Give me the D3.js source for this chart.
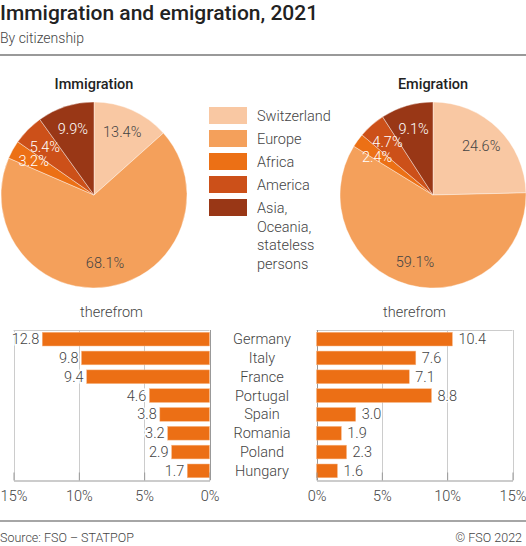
<!DOCTYPE html>
<html><head><meta charset="utf-8">
<script src="https://cdn.jsdelivr.net/npm/d3@7"></script>
<style>
body{margin:0;background:#fff;}
svg{display:block;font-family:Roboto,"Noto Sans",sans-serif;}
</style></head><body>
<svg id="chart" width="526" height="546"></svg>
<script>
const groups = ["Switzerland","Europe","Africa","America","Asia, Oceania, stateless persons"];
const groupColors = ["#f9c8a3","#f4a05b","#ec7015","#cc5019","#993716"];
const immigrationShares = [13.4,68.1,3.2,5.4,9.9];
const emigrationShares = [24.6,59.1,2.4,4.7,9.1];
const countries = ["Germany","Italy","France","Portugal","Spain","Romania","Poland","Hungary"];
const immigrationCountries = [12.8,9.8,9.4,4.6,3.8,3.2,2.9,1.7];
const emigrationCountries = [10.4,7.6,7.1,8.8,3.0,1.9,2.3,1.6];
const tickValues = [0,5,10,15];
const legendLines = [["Switzerland"],["Europe"],["Africa"],["America"],["Asia,","Oceania,","stateless","persons"]];

const svg = d3.select("#chart");
const textCol = "#444";
const FS = 14.5;

// header
svg.append("text").attr("x",0).attr("y",20).attr("font-size",21).attr("font-weight",500).attr("fill","#222").text("Immigration and emigration, 2021");
svg.append("text").attr("x",0).attr("y",43).attr("font-size",14).attr("font-weight",300).attr("fill",textCol).text("By citizenship");
svg.append("line").attr("x1",0).attr("x2",526).attr("y1",55).attr("y2",55).attr("stroke","#777").attr("stroke-width",1.5);

const color = d3.scaleOrdinal().domain(groups).range(groupColors);
const pie = d3.pie().sort(null).value(d=>d.v);
const R = 93;
const arc = d3.arc().innerRadius(0).outerRadius(R);
const labelArc = d3.arc().innerRadius(69).outerRadius(69);

function drawPie(cx, title, values, nudge){
  const g = svg.append("g").attr("transform",`translate(${cx},195)`);
  svg.append("text").attr("x",cx).attr("y",89).attr("text-anchor","middle").attr("font-size",FS).attr("font-weight",500).attr("fill","#222").text(title);
  const data = pie(groups.map((k,i)=>({k,v:values[i]})));
  g.selectAll("path").data(data).join("path").attr("d",arc).attr("fill",d=>color(d.data.k)).attr("stroke","#fff").attr("stroke-width",0.4);
  g.selectAll("text").data(data).join("text")
    .attr("transform",(d,i)=>{const c=labelArc.centroid(d);return `translate(${c[0]},${c[1]+(nudge[i]||0)})`;})
    .attr("text-anchor","middle").attr("dy","0.35em").attr("font-size",FS).attr("font-weight",300)
    .attr("fill",(d,i)=>i<2?"#444":"#fff")
    .text(d=>d.data.v.toFixed(1)+"%");
}
drawPie(94,"Immigration",immigrationShares,[0,0,0,0,0]);
drawPie(433,"Emigration",emigrationShares,[0,0,2.5,-1,0]);

// legend
const leg = svg.append("g");
groups.forEach((k,i)=>{
  const y = 107 + i*23;
  leg.append("rect").attr("x",209).attr("y",y).attr("width",38).attr("height",17).attr("fill",color(k));
  const t = leg.append("text").attr("x",257).attr("y",y+14).attr("font-size",FS).attr("font-weight",300).attr("fill",textCol);
  legendLines[i].forEach((ln,j)=>{
    t.append("tspan").attr("x",257).attr("dy",j===0?0:18.5).text(ln);
  });
});

// bars
const y = d3.scaleBand().domain(countries).range([330,480]).paddingInner(0.27).paddingOuter(0.12);
const xL = d3.scaleLinear().domain([0,15]).range([209.5,13.5]);
const xR = d3.scaleLinear().domain([0,15]).range([316.5,512.5]);
const barColor = "#ec6f15";

function drawBars(x, values, title, left){
  const g = svg.append("g");
  const [r0,r1] = x.range();
  const xmin = Math.min(r0,r1), xmax = Math.max(r0,r1);
  svg.append("text").attr("x",(xmin+xmax)/2).attr("y",317).attr("text-anchor","middle").attr("font-size",FS).attr("font-weight",300).attr("fill",textCol).text(title);
  g.append("line").attr("x1",xmin).attr("x2",xmax).attr("y1",330.5).attr("y2",330.5).attr("stroke","#ccc");
  g.selectAll("line.grid").data(tickValues).join("line").attr("class","grid")
    .attr("x1",d=>Math.round(x(d))+0.5).attr("x2",d=>Math.round(x(d))+0.5).attr("y1",330).attr("y2",480)
    .attr("stroke",d=>d===0?"#999":"#ccc");
  g.selectAll("rect").data(countries).join("rect")
    .attr("x",(d,i)=>Math.min(x(0),x(values[i])))
    .attr("width",(d,i)=>Math.abs(x(values[i])-x(0)))
    .attr("y",d=>y(d)).attr("height",y.bandwidth())
    .attr("fill",barColor).attr("stroke","#f7b98a").attr("stroke-width",0.5);
  g.selectAll("text.val").data(countries).join("text").attr("class","val")
    .attr("x",(d,i)=>left? x(values[i])-3 : x(values[i])+6)
    .attr("y",d=>y(d)+y.bandwidth()/2).attr("dy","0.35em")
    .attr("text-anchor",left?"end":"start").attr("font-size",FS).attr("font-weight",300).attr("fill",textCol)
    .attr("stroke","#fff").attr("stroke-width",3).attr("paint-order","stroke")
    .text((d,i)=>values[i].toFixed(1));
  const axis = d3.axisBottom(x).tickValues(tickValues).tickFormat(d=>d+"%").tickSize(-8).tickSizeOuter(0);
  const ag = svg.append("g").attr("transform","translate(0,480.5)").call(axis);
  ag.select(".domain").attr("stroke","#999");
  ag.selectAll(".tick line").attr("stroke","#999");
  ag.selectAll(".tick text").attr("y",10).attr("font-family","Roboto,sans-serif").attr("font-size",FS).attr("font-weight",300).attr("fill",textCol);
}
drawBars(xL, immigrationCountries, "therefrom", true);
drawBars(xR, emigrationCountries, "therefrom", false);

svg.selectAll("text.cat").data(countries).join("text").attr("class","cat")
  .attr("x",262).attr("y",d=>y(d)+y.bandwidth()/2).attr("dy","0.35em")
  .attr("text-anchor","middle").attr("font-size",FS).attr("font-weight",300).attr("fill",textCol).text(d=>d);

// footer
svg.append("line").attr("x1",0).attr("x2",526).attr("y1",521).attr("y2",521).attr("stroke","#888").attr("stroke-width",1.5);
svg.append("text").attr("x",0).attr("y",542).attr("font-size",12.5).attr("font-weight",300).attr("fill",textCol).text("Source: FSO – STATPOP");
svg.append("text").attr("x",522).attr("y",542).attr("text-anchor","end").attr("font-size",12.5).attr("font-weight",300).attr("fill",textCol).text("© FSO 2022");
</script>
</body></html>
